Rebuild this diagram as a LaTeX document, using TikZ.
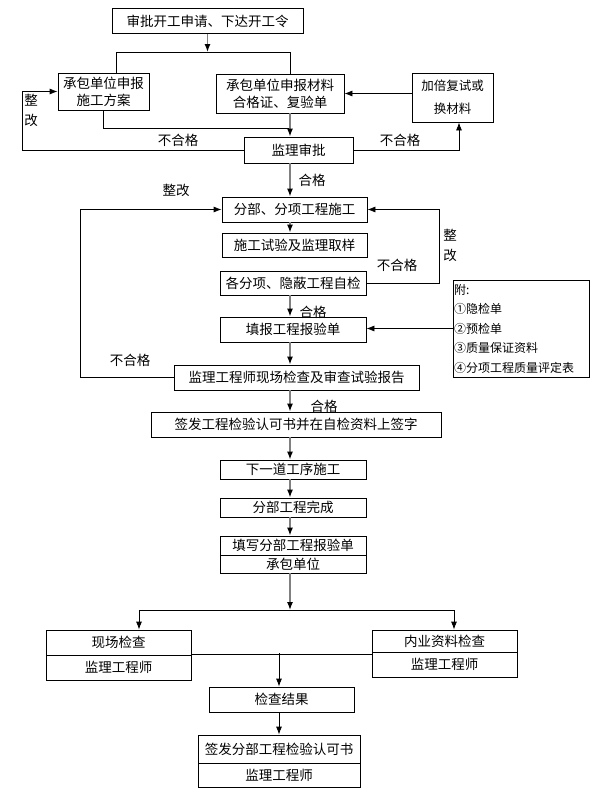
\documentclass[tikz,border=0pt]{standalone}
\usepackage{fontspec}
\setmainfont{Noto Sans CJK SC}
\usetikzlibrary{arrows.meta,positioning}

\begin{document}
\begin{tikzpicture}[x=1pt,y=-1pt,line width=0.8pt,
    box/.style={draw,inner sep=0pt,align=center,font=\fontsize{13.5}{17}\selectfont},
    lbl/.style={inner sep=0pt,align=center,font=\fontsize{13.5}{20}\selectfont},
    arr/.style={-{Latex[length=8pt,width=6pt]}},
    spinearr/.style={draw=gray,line width=1.3pt,-{Latex[length=8pt,width=6pt,black]}}]
  \useasboundingbox (0,0) rectangle (605,796);

  \node[box,minimum width=191pt,minimum height=25pt] (start) at (207.5,21) {审批开工申请、下达开工令};
  \node[box,minimum width=91pt,minimum height=37pt] (plan) at (103.5,91.5) {承包单位申报\\施工方案};
  \node[box,minimum width=128pt,minimum height=39pt] (mat) at (280,93.5) {承包单位申报材料\\合格证、复验单};
  \node[box,minimum width=81pt,minimum height=49pt,font=\fontsize{12.5}{23}\selectfont] (retest) at (452.5,97.5) {加倍复试或\\换材料};
  \node[box,minimum width=109pt,minimum height=26pt] (approve) at (298.5,150) {监理审批};
  \node[box,minimum width=145pt,minimum height=25pt] (build) at (294.5,209.5) {分部、分项工程施工};
  \node[box,minimum width=145pt,minimum height=24pt] (test) at (294.5,245) {施工试验及监理取样};
  \node[box,minimum width=146pt,minimum height=24pt] (selfchk) at (293,283) {各分项、隐蔽工程自检};
  \node[box,minimum width=146pt,minimum height=25pt] (report) at (293,329.5) {填报工程报验单};
  \node[draw,inner xsep=1pt,inner ysep=0pt,text width=134pt,minimum height=97pt,align=left,
        font=\fontsize{12}{19.5}\selectfont] (attach) at (521,328.5)
        {附:\\①隐检单\\②预检单\\③质量保证资料\\④分项工程质量评定表};
  \node[box,minimum width=245pt,minimum height=25pt] (inspect) at (296.5,377.5) {监理工程师现场检查及审查试验报告};
  \node[box,minimum width=290pt,minimum height=25pt] (sign) at (296,424.5) {签发工程检验认可书并在自检资料上签字};
  \node[box,minimum width=146pt,minimum height=19pt] (next) at (293,469.5) {下一道工序施工};
  \node[box,minimum width=146pt,minimum height=19pt] (done) at (293,507.5) {分部工程完成};
  \node[box,minimum width=146pt,minimum height=19pt] (fillA) at (293,545.5) {填写分部工程报验单};
  \node[box,minimum width=146pt,minimum height=18pt] (fillB) at (293,564) {承包单位};
  \node[box,minimum width=145pt,minimum height=25pt] (site) at (118.5,642.5) {现场检查};
  \node[box,minimum width=145pt,minimum height=25pt] (siteEng) at (118.5,667.5) {监理工程师};
  \node[box,minimum width=145pt,minimum height=22pt] (docs) at (444.5,641) {内业资料检查};
  \node[box,minimum width=145pt,minimum height=25pt] (docsEng) at (444.5,664.5) {监理工程师};
  \node[box,minimum width=145pt,minimum height=25pt] (result) at (281.5,699.5) {检查结果};
  \node[box,minimum width=162pt,minimum height=28pt] (cert) at (279,749) {签发分部工程检验认可书};
  \node[box,minimum width=162pt,minimum height=24pt] (certEng) at (279,775) {监理工程师};

  \coordinate (spine) at (290,0);
  \coordinate (topL) at (116,52);
  \coordinate (topR) at (290,52);
  \coordinate (fork) at (290,610);
  \coordinate (forkL) at (139,610);
  \coordinate (forkR) at (454,610);
  \coordinate (merge) at (279,653);

  \draw[spinearr] (start.south) -- (start.south |- topL);
  \draw (plan.north -| topL) -- (topL) -- (topR) -- (mat.north -| topR);
  \draw (plan.south) |- (290,128);
  \draw[arr] (retest.west |- mat.east) -- (mat.east);

  \foreach \from/\to in {mat/approve,approve/build,build/test,selfchk/report,report/inspect,
                         inspect/sign,sign/next,next/done,done/fillA}
    \draw[spinearr] (\from.south -| spine) -- (\to.north -| spine);

  \draw[arr] (approve.west) -| ([xshift=-35pt]plan.west) -- (plan.west);
  \draw[arr] (approve.east) -| ([xshift=6.5pt]retest.south);
  \draw[arr] (selfchk.east) -- ++(73,0) |- (build.east);
  \draw[arr] (inspect.west) -- ++(-93,0) |- (build.west);
  \draw[arr] (attach.west) -- (report.east |- attach.west);

  \draw[spinearr] (fillB.south -| spine) -- (fork);
  \draw (forkL) -- (forkR);
  \draw[arr] (forkL) -- (forkL |- site.north);
  \draw[arr] (forkR) -- (forkR |- docs.north);
  \draw (siteEng.north east) -- (siteEng.north east -| docs.west);
  \draw[arr] (merge) -- (merge |- result.north);
  \draw[arr] (result.south -| merge) -- (cert.north -| merge);

  \node[lbl] (fail1) at (178,140) {不合格};
  \node[lbl] (fail2) at (400,140) {不合格};
  \node[lbl] (fix1) at (31,110) {整\\改};
  \node[lbl] (pass1) at (312,180) {合格};
  \node[lbl] (fix2) at (176,190) {整改};
  \node[lbl] (fix3) at (450,245) {整\\改};
  \node[lbl] (fail3) at (397,265) {不合格};
  \node[lbl] (pass2) at (313,312) {合格};
  \node[lbl] (fail4) at (130,360) {不合格};
  \node[lbl] (pass3) at (324,406) {合格};
\end{tikzpicture}
\end{document}
